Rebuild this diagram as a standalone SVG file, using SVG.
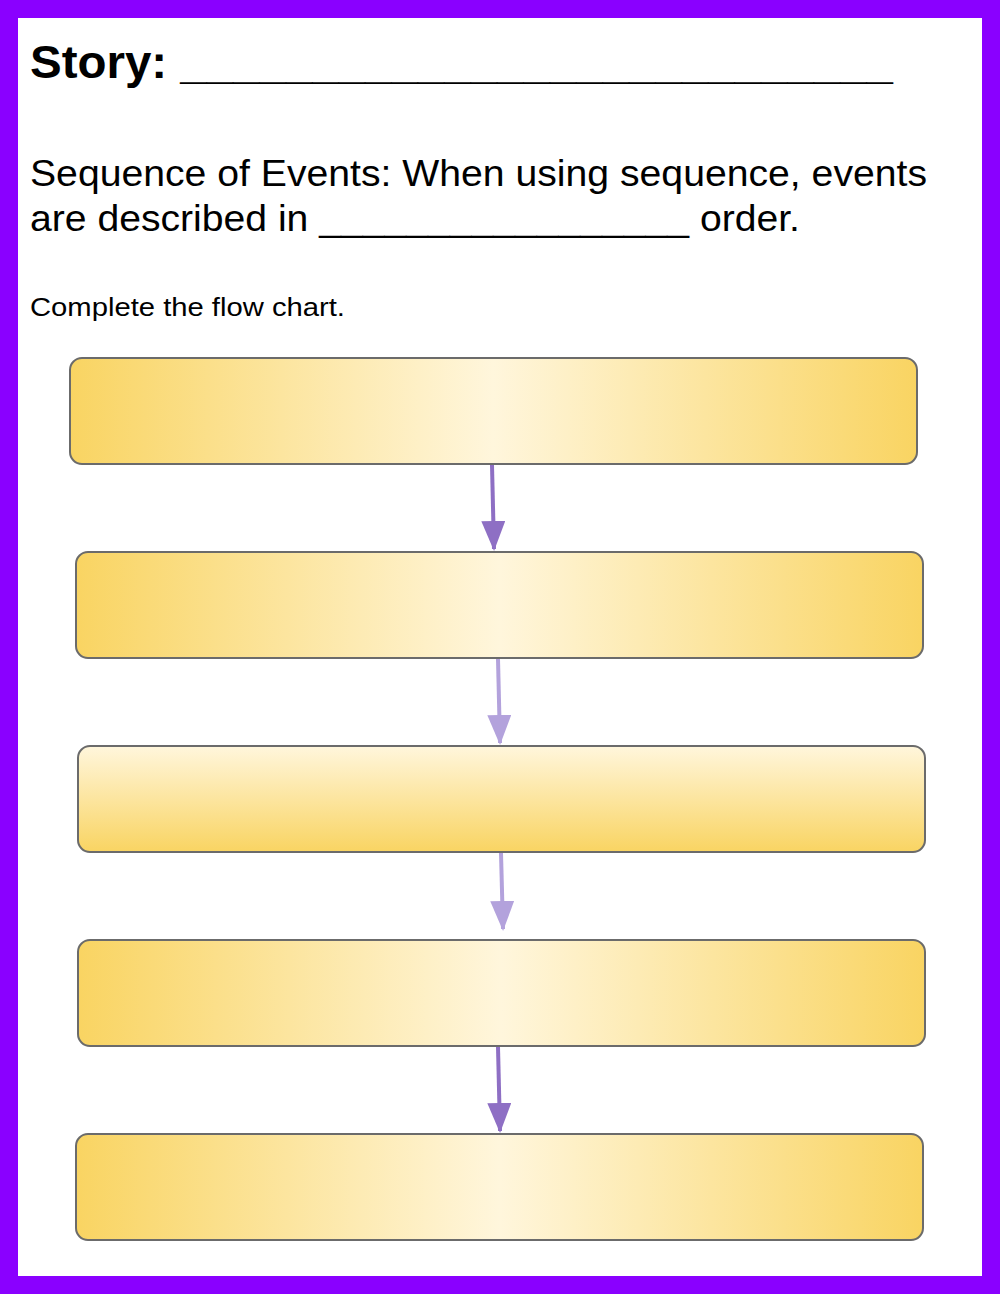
<svg xmlns="http://www.w3.org/2000/svg" width="1000" height="1294" viewBox="0 0 1000 1294">
<defs>
<linearGradient id="hz" x1="0" y1="0" x2="1" y2="0"><stop offset="0" stop-color="#f9d462"/><stop offset="0.5" stop-color="#fff6dc"/><stop offset="1" stop-color="#f9d462"/></linearGradient>
<linearGradient id="vt" x1="0" y1="0" x2="0" y2="1"><stop offset="0" stop-color="#fff6dc"/><stop offset="1" stop-color="#f9d462"/></linearGradient>
<marker id="ad" markerWidth="30" markerHeight="24" refX="28" refY="12" orient="auto" markerUnits="userSpaceOnUse" viewBox="0 0 30 24"><path d="M0,0 L30,12 L0,24 Z" fill="#8e6fc4"/></marker>
<marker id="al" markerWidth="30" markerHeight="24" refX="28" refY="12" orient="auto" markerUnits="userSpaceOnUse" viewBox="0 0 30 24"><path d="M0,0 L30,12 L0,24 Z" fill="#b3a2dc"/></marker>
</defs>
<style>
.b{stroke:#6b6b6b;stroke-width:2}
.t{font-family:"Liberation Sans",Arial,sans-serif;fill:#000}
</style>
<rect x="9" y="9" width="982" height="1276" fill="#fff" stroke="#8a00ff" stroke-width="18"/>
<text class="t" x="30" y="78" font-size="46" font-weight="bold" textLength="863" lengthAdjust="spacingAndGlyphs">Story: ___________________________</text>
<text class="t" x="30" y="186" font-size="37" textLength="897" lengthAdjust="spacingAndGlyphs">Sequence of Events: When using sequence, events</text>
<text class="t" x="30" y="231" font-size="37" textLength="770" lengthAdjust="spacingAndGlyphs">are described in _________________ order.</text>
<text class="t" x="30" y="316" font-size="25" textLength="315" lengthAdjust="spacingAndGlyphs">Complete the flow chart.</text>
<g id="n1"><rect class="b" x="70" y="358" width="847" height="106" rx="12" fill="url(#hz)"/></g>
<g id="n2"><rect class="b" x="76" y="552" width="847" height="106" rx="12" fill="url(#hz)"/></g>
<g id="n3"><rect class="b" x="78" y="746" width="847" height="106" rx="12" fill="url(#vt)"/></g>
<g id="n4"><rect class="b" x="78" y="940" width="847" height="106" rx="12" fill="url(#hz)"/></g>
<g id="n5"><rect class="b" x="76" y="1134" width="847" height="106" rx="12" fill="url(#hz)"/></g>
<g id="connectors" stroke-width="4" fill="none">
<line x1="492" y1="465" x2="494" y2="549" stroke="#8e6fc4" marker-end="url(#ad)"/>
<line x1="498" y1="659" x2="500" y2="743" stroke="#b3a2dc" marker-end="url(#al)"/>
<line x1="501" y1="853" x2="503" y2="929" stroke="#b3a2dc" marker-end="url(#al)"/>
<line x1="498" y1="1047" x2="500" y2="1131" stroke="#8e6fc4" marker-end="url(#ad)"/>
</g>
</svg>
